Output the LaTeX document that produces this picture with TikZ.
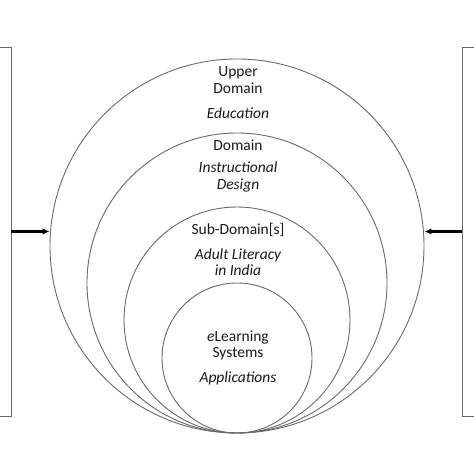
\documentclass[tikz,border=0pt]{standalone}
\usepackage{fontspec}
\setmainfont{Carlito}
\usetikzlibrary{arrows.meta}
\definecolor{ringgray}{RGB}{105,105,105}
\definecolor{textcol}{RGB}{25,25,25}
\begin{document}
\begin{tikzpicture}[x=1pt,y=1pt,
 ring/.style={circle, draw=ringgray, line width=0.9pt, inner sep=0pt},
 panel/.style={rectangle, draw=ringgray, line width=0.9pt, inner sep=0pt},
 lbl/.style={font=\fontsize{15.5}{16.5}\selectfont, text=textcol, align=center, inner sep=0pt},
 link/.style={-{Latex[length=7pt,width=6.5pt]}, line width=2.4pt, draw=black}]
\useasboundingbox (0,0) rectangle (474,474);
\node[ring, minimum size=374pt] (upper) at (237,228) {};
\node[ring, minimum size=300pt] (domain) at (237,191) {};
\node[ring, minimum size=226pt] (sub) at (237,154) {};
\node[ring, minimum size=150pt] (app) at (237,116) {};
\node[panel, minimum width=31pt, minimum height=369pt] (lp) at (-4.5,242.5) {};
\node[panel, minimum width=31pt, minimum height=369pt] (rp) at (477.5,242.5) {};
\draw[link] (lp.east) -- (lp.east -| upper.west);
\draw[link] (rp.west) -- (rp.west -| upper.east);
\node[lbl] (t1) at (238,394) {Upper\\Domain};
\node[lbl] (t2) at (238,361) {\itshape Education};
\node[lbl] (t3) at (238,329) {Domain};
\node[lbl] (t4) at (238,297) {\itshape Instructional\\\itshape Design};
\node[lbl] (t5) at (238,244) {Sub-Domain[s]};
\node[lbl] (t6) at (238,212) {\itshape Adult Literacy\\\itshape in India};
\node[lbl] (t7) at (238,128.5) {\textit{e}Learning\\Systems};
\node[lbl] (t8) at (238,96) {\itshape Applications};
\end{tikzpicture}
\end{document}
